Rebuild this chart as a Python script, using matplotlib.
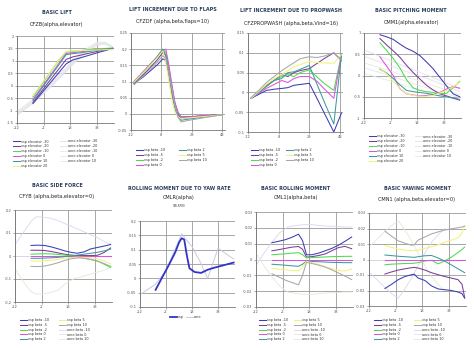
import matplotlib
matplotlib.use("Agg")
import matplotlib.pyplot as plt
from matplotlib.ticker import FixedLocator, FormatStrFormatter

# ---------------------------------------------------------------- colours
C_BLUE = "#3c3cb4"
C_PURPLE = "#7d3c98"
C_GREEN = "#4cdc4c"
C_MAGENTA = "#e050e0"
C_TEAL = "#3c9c9c"
C_YELLOW = "#f2f27a"
C_GRAY = "#a8a8a8"
AERO_ELEV_COLORS = ["#e0e0ec", "#e6e0ea", "#e0eee0", "#eee2ee", "#e0ecec"]
AERO_BETA_COLORS = ["#d8d8ee", "#ecdcec", "#dcecd6"]
VSP_ELEV_COLORS = [C_BLUE, C_PURPLE, C_GREEN, C_MAGENTA, C_TEAL, C_YELLOW]
VSP_BETA_COLORS = [C_BLUE, C_PURPLE, C_GREEN, C_MAGENTA, C_TEAL, C_YELLOW, C_GRAY]

# ---------------------------------------------------------------- labels
elevators = [-30, -20, -10, 0, 10, 20]
aero_elevators = [-30, -20, -10, 0, 10]
betas = [-10, -5, -2, 0, 2, 5, 10]
aero_betas = [-10, 0, 10]

# ---------------------------------------------------------------- CFZB
cfzb_alpha = [-10, -5, 0, 5, 10, 15, 20, 25, 30, 35, 40, 45, 50]
cfzb_vsp = [
    [-0.72, -0.40, -0.08, 0.24, 0.56, 0.88, 1.04, 1.11, 1.19, 1.27, 1.35, 1.42, 1.50],
    [-0.68, -0.33, 0.02, 0.37, 0.71, 1.06, 1.16, 1.22, 1.28, 1.34, 1.40, 1.45, 1.50],
    [-0.45, -0.07, 0.31, 0.69, 1.06, 1.36, 1.39, 1.41, 1.44, 1.46, 1.48, 1.50, 1.52],
    [-0.55, -0.18, 0.19, 0.56, 0.93, 1.30, 1.33, 1.36, 1.39, 1.42, 1.45, 1.47, 1.50],
    [-0.60, -0.23, 0.14, 0.51, 0.88, 1.25, 1.29, 1.32, 1.36, 1.40, 1.43, 1.47, 1.50],
    [-0.40, -0.03, 0.34, 0.71, 1.08, 1.38, 1.40, 1.41, 1.42, 1.43, 1.44, 1.45, 1.45],
]
cfzb_aero_alpha = [-22, -16, -10, -4, 2, 8, 14, 20, 26, 32, 38, 44, 50]
cfzb_aero = [
    [-1.20, -0.95, -0.70, -0.42, -0.12, 0.20, 0.52, 0.85, 1.15, 1.40, 1.62, 1.68, 1.55],
    [-1.16, -0.91, -0.66, -0.38, -0.08, 0.24, 0.56, 0.89, 1.19, 1.44, 1.66, 1.70, 1.55],
    [-1.12, -0.87, -0.62, -0.34, -0.04, 0.28, 0.60, 0.93, 1.23, 1.48, 1.69, 1.72, 1.56],
    [-1.08, -0.83, -0.58, -0.30, 0.00, 0.32, 0.64, 0.97, 1.27, 1.52, 1.72, 1.74, 1.57],
    [-1.04, -0.79, -0.54, -0.26, 0.04, 0.36, 0.68, 1.01, 1.31, 1.56, 1.75, 1.76, 1.58],
]

# ---------------------------------------------------------------- CFZDF
cfzdf_alpha = [-10, -5, 0, 5, 9, 11, 13, 15, 17, 19, 21, 25, 30, 35, 40, 45, 48]
cfzdf_vsp = [
    [0.095, 0.110, 0.130, 0.150, 0.170, 0.165, 0.120, 0.070, 0.025, 0.000, -0.010, -0.009, -0.008, -0.006, -0.005, -0.003, -0.002],
    [0.092, 0.115, 0.140, 0.165, 0.190, 0.180, 0.130, 0.080, 0.030, 0.000, -0.015, -0.013, -0.011, -0.009, -0.006, -0.004, -0.003],
    [0.100, 0.125, 0.150, 0.175, 0.200, 0.190, 0.140, 0.085, 0.030, 0.005, -0.012, -0.011, -0.009, -0.007, -0.005, -0.004, -0.003],
    [0.100, 0.125, 0.150, 0.175, 0.198, 0.200, 0.150, 0.090, 0.035, 0.005, -0.010, -0.009, -0.008, -0.006, -0.005, -0.003, -0.002],
    [0.095, 0.120, 0.148, 0.175, 0.200, 0.180, 0.120, 0.060, 0.015, -0.010, -0.020, -0.017, -0.014, -0.011, -0.008, -0.005, -0.003],
    [0.098, 0.122, 0.147, 0.172, 0.195, 0.160, 0.100, 0.040, 0.005, -0.010, -0.015, -0.013, -0.011, -0.009, -0.007, -0.004, -0.003],
    [0.090, 0.112, 0.135, 0.158, 0.180, 0.170, 0.125, 0.075, 0.025, -0.010, -0.025, -0.021, -0.017, -0.013, -0.009, -0.005, -0.003],
]

# ---------------------------------------------------------------- CFZPROPWASH
cfzpw_alpha = [-10, -5, 0, 5, 10, 14, 18, 22, 28, 33, 38, 44, 49]
cfzpw_vsp = [
    [-0.015, -0.005, 0.005, 0.008, 0.010, 0.012, 0.018, 0.020, 0.023, -0.015, -0.054, -0.100, -0.052],
    [-0.015, 0.000, 0.018, 0.030, 0.045, 0.040, 0.050, 0.055, 0.060, 0.073, 0.086, 0.100, 0.080],
    [-0.015, 0.000, 0.015, 0.030, 0.040, 0.045, 0.040, 0.050, 0.057, 0.039, 0.022, 0.005, 0.095],
    [-0.015, -0.002, 0.010, 0.020, 0.030, 0.025, 0.035, 0.040, 0.040, 0.028, 0.008, -0.015, 0.095],
    [-0.015, 0.000, 0.015, 0.030, 0.035, 0.050, 0.052, 0.058, 0.068, 0.021, -0.026, -0.080, 0.095],
    [-0.015, 0.002, 0.020, 0.035, 0.045, 0.055, 0.065, 0.070, 0.078, 0.076, 0.074, 0.074, 0.095],
    [-0.013, 0.005, 0.025, 0.040, 0.055, 0.065, 0.075, 0.085, 0.090, 0.088, 0.092, 0.100, 0.082],
]

# ---------------------------------------------------------------- CMM1
cmm1_alpha = [-10, -5, 0, 5, 10, 15, 20, 25, 30, 35, 40, 45, 50]
cmm1_vsp = [
    [0.96, 0.91, 0.85, 0.74, 0.64, 0.57, 0.47, 0.32, 0.16, -0.04, -0.24, -0.43, -0.50],
    [0.87, 0.72, 0.58, 0.43, 0.24, 0.07, -0.08, -0.23, -0.34, -0.43, -0.48, -0.53, -0.58],
    [0.77, 0.59, 0.40, 0.18, -0.10, -0.29, -0.35, -0.38, -0.40, -0.43, -0.42, -0.29, -0.14],
    [0.44, 0.22, 0.00, -0.31, -0.43, -0.46, -0.48, -0.47, -0.45, -0.40, -0.32, -0.26, -0.30],
    [0.15, 0.06, -0.07, -0.22, -0.35, -0.38, -0.40, -0.42, -0.45, -0.48, -0.50, -0.53, -0.56],
    [0.17, 0.04, -0.13, -0.30, -0.43, -0.47, -0.49, -0.49, -0.47, -0.41, -0.35, -0.27, -0.16],
]
cmm1_aero_alpha = [-22, -10, 2, 14, 26, 38, 50]
cmm1_aero = [
    [0.60, 0.45, 0.30, 0.15, 0.00, -0.15, -0.30],
    [0.45, 0.32, 0.18, 0.05, -0.08, -0.22, -0.38],
    [0.30, 0.18, 0.06, -0.07, -0.20, -0.32, -0.45],
    [0.18, 0.07, -0.05, -0.18, -0.30, -0.42, -0.52],
    [0.05, -0.06, -0.17, -0.29, -0.40, -0.50, -0.58],
]

# ---------------------------------------------------------------- CFYB
cfyb_alpha = [-10, -5, 0, 5, 10, 15, 20, 25, 30, 35, 40, 45, 50]
cfyb_vsp = [
    [0.046, 0.047, 0.046, 0.040, 0.032, 0.023, 0.016, 0.012, 0.018, 0.031, 0.037, 0.043, 0.050],
    [0.025, 0.025, 0.024, 0.020, 0.014, 0.008, 0.004, 0.002, 0.002, 0.002, 0.003, 0.015, 0.035],
    [0.008, 0.009, 0.010, 0.009, 0.007, 0.004, 0.001, -0.004, -0.009, -0.015, -0.022, -0.035, -0.050],
    [0.000, 0.000, 0.000, 0.000, 0.000, 0.000, 0.000, 0.000, 0.000, 0.000, 0.000, 0.000, 0.000],
    [-0.010, -0.010, -0.009, -0.008, -0.006, -0.003, 0.000, 0.004, 0.008, 0.012, 0.016, 0.022, 0.030],
    [-0.022, -0.022, -0.021, -0.019, -0.015, -0.010, -0.007, -0.005, -0.006, -0.008, -0.012, -0.022, -0.035],
    [-0.045, -0.046, -0.044, -0.038, -0.030, -0.020, -0.012, -0.008, -0.010, -0.015, -0.022, -0.033, -0.045],
]
cfyb_aero_alpha = [-22, -16, -10, -6, -2, 4, 10, 16, 22, 28, 34, 40, 46, 50]
cfyb_aero = [
    [0.050, 0.100, 0.150, 0.170, 0.170, 0.165, 0.155, 0.140, 0.125, 0.110, 0.095, 0.080, 0.060, 0.050],
    [0.000, 0.000, 0.000, 0.000, 0.000, 0.000, 0.000, 0.000, 0.000, 0.000, 0.000, 0.000, 0.000, 0.000],
    [-0.055, -0.110, -0.155, -0.165, -0.165, -0.160, -0.150, -0.120, -0.100, -0.090, -0.080, -0.070, -0.060, -0.050],
]

# ---------------------------------------------------------------- CMLR
cmlr_alpha = [-10, -5, 0, 5, 8, 10, 12, 14, 16, 20, 25, 30, 35, 40, 45, 50]
cmlr_vsp = [-0.040, 0.003, 0.045, 0.090, 0.125, 0.140, 0.135, 0.080, 0.035, 0.022, 0.019, 0.030, 0.037, 0.043, 0.049, 0.055]
cmlr_aero_alpha = [-22, -10, -2, 10, 18, 24, 30, 38, 50]
cmlr_aero = [-0.057, -0.020, 0.027, 0.155, 0.110, 0.060, 0.000, 0.105, 0.067]

# ---------------------------------------------------------------- CML1
cml1_alpha = [-10, -5, 0, 5, 10, 13, 16, 20, 25, 30, 35, 40, 45, 50]
cml1_vsp = [
    [0.0106, 0.0115, 0.0125, 0.0140, 0.0160, 0.0120, 0.0030, 0.0030, 0.0040, 0.0055, 0.0070, 0.0090, 0.0115, 0.0142],
    [0.0055, 0.0062, 0.0070, 0.0078, 0.0082, 0.0065, 0.0015, 0.0018, 0.0025, 0.0035, 0.0055, 0.0075, 0.0083, 0.0068],
    [0.0030, 0.0033, 0.0036, 0.0040, 0.0043, 0.0030, 0.0010, 0.0012, 0.0014, 0.0016, 0.0018, 0.0019, 0.0020, 0.0020],
    [0.0, 0.0, 0.0, 0.0, 0.0, 0.0, 0.0, 0.0, 0.0, 0.0, 0.0, 0.0, 0.0, 0.0],
    [-0.0030, -0.0033, -0.0036, -0.0040, -0.0043, -0.0030, -0.0010, -0.0012, -0.0014, -0.0016, -0.0018, -0.0019, -0.0020, -0.0020],
    [-0.0055, -0.0060, -0.0065, -0.0070, -0.0072, -0.0050, -0.0012, -0.0020, -0.0030, -0.0045, -0.0058, -0.0070, -0.0073, -0.0060],
    [-0.0090, -0.0110, -0.0130, -0.0145, -0.0160, -0.0100, -0.0018, -0.0025, -0.0035, -0.0048, -0.0065, -0.0085, -0.0105, -0.0127],
]
cml1_aero_alpha = [-22, -16, -10, -4, 2, 8, 14, 20, 26, 32, 38, 44, 50]
cml1_aero = [
    [-0.004, 0.004, 0.011, 0.017, 0.0205, 0.0215, 0.022, 0.022, 0.0215, 0.021, 0.021, 0.0205, 0.0205],
    [0.0, 0.0, 0.0, 0.0, 0.0, 0.0, 0.0, 0.0, 0.0, 0.0, 0.0, 0.0, 0.0],
    [0.004, -0.004, -0.011, -0.017, -0.0205, -0.0215, -0.022, -0.022, -0.0215, -0.021, -0.021, -0.0205, -0.0205],
]

# ---------------------------------------------------------------- CMN1
cmn1_alpha = [-10, -5, 0, 5, 10, 12, 15, 20, 25, 30, 35, 40, 45, 48, 50]
cmn1_vsp = [
    [-0.0187, -0.0160, -0.0130, -0.0110, -0.0098, -0.0095, -0.0120, -0.0135, -0.0170, -0.0190, -0.0195, -0.0200, -0.0210, -0.0220, -0.0250],
    [-0.0094, -0.0080, -0.0068, -0.0060, -0.0053, -0.0051, -0.0055, -0.0068, -0.0085, -0.0098, -0.0110, -0.0120, -0.0130, -0.0160, -0.0245],
    [-0.0034, -0.0030, -0.0028, -0.0026, -0.0025, -0.0024, -0.0020, -0.0010, -0.0005, -0.0028, -0.0010, 0.0015, 0.0045, 0.0065, 0.0080],
    [0.0, 0.0, 0.0, 0.0, 0.0, 0.0, 0.0, 0.0, 0.0, 0.0, 0.0, 0.0, 0.0, 0.0, 0.0],
    [0.0029, 0.0025, 0.0021, 0.0018, 0.0015, 0.0014, 0.0018, 0.0024, 0.0026, 0.0010, -0.0010, -0.0035, -0.0060, -0.0075, -0.0085],
    [0.0090, 0.0078, 0.0068, 0.0060, 0.0057, 0.0057, 0.0060, 0.0072, 0.0082, 0.0095, 0.0110, 0.0125, 0.0140, 0.0170, 0.0220],
    [0.0183, 0.0150, 0.0120, 0.0105, 0.0092, 0.0095, 0.0125, 0.0145, 0.0165, 0.0178, 0.0190, 0.0198, 0.0205, 0.0210, 0.0215],
]
cmn1_aero_alpha = [-22, -16, -10, -5, 0, 5, 10, 15, 20, 25, 30, 35]
cmn1_aero = [
    [-0.008, -0.013, -0.018, -0.022, -0.025, -0.019, -0.012, -0.004, 0.004, 0.011, 0.016, 0.020],
    [0.0, 0.0, 0.0, 0.0, 0.0, 0.0, 0.0, 0.0, 0.0, 0.0, 0.0, 0.0],
    [0.008, 0.013, 0.018, 0.022, 0.025, 0.019, 0.012, 0.004, -0.004, -0.011, -0.016, -0.020],
]

# ---------------------------------------------------------------- figure
W, H = 474, 348
fig = plt.figure(figsize=(W / 100, H / 100), dpi=100)
fig.patch.set_facecolor("white")

TITLE_COLOR = "#2b3d5c"
TEXT_COLOR = "#222222"
VSP_LW = 0.75
AERO_LW = 0.6


def px_axes(l, t, r, b):
    return fig.add_axes([l / W, 1 - b / H, (r - l) / W, (b - t) / H])


def style(ax, xlim, xticks, ylim, yticks):
    ax.set_xlim(*xlim)
    ax.set_ylim(*ylim)
    ax.xaxis.set_major_locator(FixedLocator(xticks))
    ax.yaxis.set_major_locator(FixedLocator(yticks))
    ax.xaxis.set_major_formatter(FormatStrFormatter("%g"))
    ax.yaxis.set_major_formatter(FormatStrFormatter("%g"))
    ax.grid(True, color="#999999", lw=0.6)
    ax.set_axisbelow(True)
    for s in ("top", "right"):
        ax.spines[s].set_visible(False)
    for s in ("left", "bottom"):
        ax.spines[s].set_color("#777777")
        ax.spines[s].set_linewidth(0.6)
    ax.tick_params(labelsize=2.6, length=1.5, width=0.4, pad=1.0,
                   color="#666666", labelcolor="#555555")


def titles(x, y_title, y_sub, title, sub):
    fig.text(x / W, 1 - y_title / H, title, ha="center", va="center",
             fontsize=3.5, fontweight="bold", color=TITLE_COLOR)
    fig.text(x / W, 1 - y_sub / H, sub, ha="center", va="center",
             fontsize=3.6, color=TEXT_COLOR)


def legend_column(handles, x, y):
    fig.legend(handles=handles, loc="upper left",
               bbox_to_anchor=(x / W, 1 - y / H), frameon=False,
               fontsize=2.4, handlelength=2.0, handletextpad=0.4,
               labelspacing=0.25, borderpad=0, borderaxespad=0,
               labelcolor="#333333")


ALPHA_TICKS = [-22, -2, 18, 38]
ALPHA_LIM = (-22, 51)
FLAP_TICKS = [-12, 8, 28, 48]
FLAP_LIM = (-12, 50)

# ---- BASIC LIFT
ax = px_axes(17, 36, 114, 123)
h_vsp, h_aero = [], []
for vals, col, e in zip(cfzb_aero, AERO_ELEV_COLORS, aero_elevators):
    l, = ax.plot(cfzb_aero_alpha, vals, color=col, lw=AERO_LW, label=f"aero elevator {e}")
    h_aero.append(l)
for vals, col, e in zip(cfzb_vsp, VSP_ELEV_COLORS, elevators):
    l, = ax.plot(cfzb_alpha, vals, color=col, lw=VSP_LW, label=f"vsp elevator {e}")
    h_vsp.append(l)
style(ax, ALPHA_LIM, ALPHA_TICKS, (-1.5, 2), [-1.5, -1, -0.5, 0, 0.5, 1, 1.5, 2])
titles(57, 12.7, 24.3, "BASIC LIFT", "CFZB(alpha,elevator)")
legend_column(h_vsp, 13, 139.5)
legend_column(h_aero, 60, 139.5)

# ---- LIFT INCREMENT DUE TO FLAPS
ax = px_axes(131, 33, 225, 130)
h = []
for vals, col, b in zip(cfzdf_vsp, VSP_BETA_COLORS, betas):
    l, = ax.plot(cfzdf_alpha, vals, color=col, lw=VSP_LW, label=f"vsp beta {b}")
    h.append(l)
style(ax, FLAP_LIM, FLAP_TICKS, (-0.05, 0.25), [-0.05, 0, 0.05, 0.1, 0.15, 0.2, 0.25])
titles(173, 9.3, 21.7, "LIFT INCREMENT DUE TO FLAPS", "CFZDF (alpha,beta,flaps=10)")
legend_column(h[:4], 136, 148.5)
legend_column(h[4:], 179, 148.5)

# ---- LIFT INCREMENT DUE TO PROPWASH
ax = px_axes(248, 33, 343, 132)
h = []
for vals, col, b in zip(cfzpw_vsp, VSP_BETA_COLORS, betas):
    l, = ax.plot(cfzpw_alpha, vals, color=col, lw=VSP_LW, label=f"vsp beta {b}")
    h.append(l)
style(ax, FLAP_LIM, FLAP_TICKS, (-0.1, 0.15), [-0.1, -0.05, 0, 0.05, 0.1, 0.15])
titles(291, 10, 23.3, "LIFT INCREMENT DUE TO PROPWASH", "CFZPROPWASH (alpha,beta,Vind=16)")
legend_column(h[:4], 251, 148.5)
legend_column(h[4:], 286, 148.5)

# ---- BASIC PITCHING MOMENT
ax = px_axes(364, 33, 461, 118)
h_vsp, h_aero = [], []
for vals, col, e in zip(cmm1_aero, AERO_ELEV_COLORS, aero_elevators):
    l, = ax.plot(cmm1_aero_alpha, vals, color=col, lw=AERO_LW, label=f"aero elevator {e}")
    h_aero.append(l)
for vals, col, e in zip(cmm1_vsp, VSP_ELEV_COLORS, elevators):
    l, = ax.plot(cmm1_alpha, vals, color=col, lw=VSP_LW, label=f"vsp elevator {e}")
    h_vsp.append(l)
style(ax, ALPHA_LIM, ALPHA_TICKS, (-1, 1), [-1, -0.5, 0, 0.5, 1])
titles(411, 10.7, 22.3, "BASIC PITCHING MOMENT", "CMM1(alpha,elevator)")
legend_column(h_vsp, 369, 134.5)
legend_column(h_aero, 415, 134.5)

# ---- BASIC SIDE FORCE
ax = px_axes(15, 210, 112, 302)
h_vsp, h_aero = [], []
for vals, col, b in zip(cfyb_aero, AERO_BETA_COLORS, aero_betas):
    l, = ax.plot(cfyb_aero_alpha, vals, color=col, lw=AERO_LW, label=f"aero beta {b}")
    h_aero.append(l)
for vals, col, b in zip(cfyb_vsp, VSP_BETA_COLORS, betas):
    l, = ax.plot(cfyb_alpha, vals, color=col, lw=VSP_LW, label=f"vsp beta {b}")
    h_vsp.append(l)
style(ax, ALPHA_LIM, ALPHA_TICKS, (-0.2, 0.2), [-0.2, -0.1, 0, 0.1, 0.2])
titles(57, 185.7, 196.7, "BASIC SIDE FORCE", "CFYB (alpha,beta,elevator=0)")
allh = h_vsp + h_aero
legend_column(allh[:5], 20, 318)
legend_column(allh[5:], 59, 318)

# ---- ROLLING MOMENT DUE TO YAW RATE
ax = px_axes(140, 221, 235, 307)
la, = ax.plot(cmlr_aero_alpha, cmlr_aero, color="#c8c8e2", lw=0.7, label="aero")
lv, = ax.plot(cmlr_alpha, cmlr_vsp, color="#3434c4", lw=1.3, label="vsp")
style(ax, ALPHA_LIM, ALPHA_TICKS, (-0.1, 0.2), [-0.1, -0.05, 0, 0.05, 0.1, 0.15, 0.2])
titles(179, 188, 198, "ROLLING MOMENT DUE TO YAW RATE", "CMLR(alpha)")
fig.text(179 / W, 1 - 206.3 / H, "CMLRP80", ha="center", va="center",
         fontsize=2.0, color="#444444")
legend_column([lv], 170, 315)
legend_column([la], 186, 315)

# ---- BASIC ROLLING MOMENT
ax = px_axes(256, 212, 353, 307)
h_vsp, h_aero = [], []
for vals, col, b in zip(cml1_aero, AERO_BETA_COLORS, aero_betas):
    l, = ax.plot(cml1_aero_alpha, vals, color=col, lw=AERO_LW, label=f"aero beta {b}")
    h_aero.append(l)
for vals, col, b in zip(cml1_vsp, VSP_BETA_COLORS, betas):
    l, = ax.plot(cml1_alpha, vals, color=col, lw=VSP_LW, label=f"vsp beta {b}")
    h_vsp.append(l)
style(ax, ALPHA_LIM, ALPHA_TICKS, (-0.03, 0.03), [-0.03, -0.02, -0.01, 0, 0.01, 0.02, 0.03])
titles(296, 188, 198, "BASIC ROLLING MOMENT", "CML1(alpha,beta)")
allh = h_vsp + h_aero
legend_column(allh[:5], 259, 318)
legend_column(allh[5:], 294, 318)

# ---- BASIC YAWING MOMENT
ax = px_axes(369, 213, 466, 306)
h_vsp, h_aero = [], []
for vals, col, b in zip(cmn1_aero, AERO_BETA_COLORS, aero_betas):
    l, = ax.plot(cmn1_aero_alpha, vals, color=col, lw=AERO_LW, label=f"aero beta {b}")
    h_aero.append(l)
for vals, col, b in zip(cmn1_vsp, VSP_BETA_COLORS, betas):
    l, = ax.plot(cmn1_alpha, vals, color=col, lw=VSP_LW, label=f"vsp beta {b}")
    h_vsp.append(l)
style(ax, ALPHA_LIM, ALPHA_TICKS, (-0.03, 0.03), [-0.03, -0.02, -0.01, 0, 0.01, 0.02, 0.03])
titles(417, 189, 199, "BASIC YAWING MOMENT", "CMN1 (alpha,beta,elevator=0)")
allh = h_vsp + h_aero
legend_column(allh[:5], 374, 318)
legend_column(allh[5:], 414, 318)

fig.savefig("out.png", dpi=100, facecolor="white")
